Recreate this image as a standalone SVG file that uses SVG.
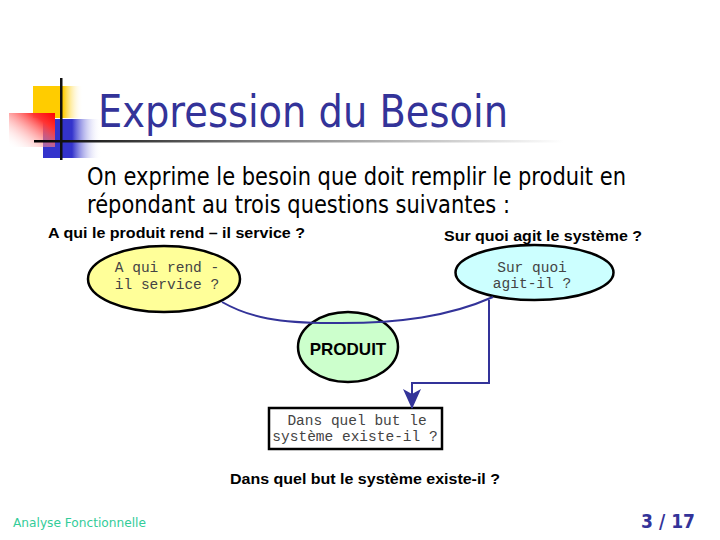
<svg xmlns="http://www.w3.org/2000/svg" width="720" height="540" viewBox="0 0 720 540">
<style>
.title{font-family:"DejaVu Sans","Liberation Sans",sans-serif;fill:#333399}
.body{font-family:"DejaVu Sans","Liberation Sans",sans-serif;fill:#000}
.lbl{font-family:"Liberation Sans",Arial,sans-serif;font-weight:bold;font-size:15.5px;fill:#000}
.mono{font-family:"Liberation Mono","Courier New",monospace;font-size:14.5px;fill:#444}
.node{stroke:#000;stroke-width:2.5}
.conn{fill:none;stroke:#333399;stroke-width:2}
</style>
<defs>
<linearGradient id="gy" x1="0" y1="0" x2="1" y2="0"><stop offset="0" stop-color="#ffcc00"/><stop offset="0.6" stop-color="#ffcc00"/><stop offset="1" stop-color="#fff" stop-opacity="0"/></linearGradient>
<linearGradient id="gr" x1="1" y1="0" x2="0" y2="1"><stop offset="0" stop-color="#ff0000"/><stop offset="0.25" stop-color="#ff3333"/><stop offset="1" stop-color="#fff" stop-opacity="0"/></linearGradient>
<linearGradient id="gb" x1="0" y1="0" x2="1" y2="0"><stop offset="0" stop-color="#3333cc"/><stop offset="0.5" stop-color="#3333cc"/><stop offset="1" stop-color="#fff" stop-opacity="0"/></linearGradient>
<linearGradient id="gl" x1="0" y1="0" x2="1" y2="0"><stop offset="0" stop-color="#000"/><stop offset="0.4" stop-color="#777"/><stop offset="1" stop-color="#fff"/></linearGradient>
<marker id="arr" viewBox="0 0 20 20" refX="19" refY="10" markerWidth="20" markerHeight="20" markerUnits="userSpaceOnUse" orient="auto">
<path d="M0,1 L20,10 L0,19 L5,10 Z" fill="#333399"/>
</marker>
</defs>

<g id="decoration">
<rect x="43" y="119" width="58" height="39" fill="url(#gb)"/>
<rect x="33" y="86" width="50" height="32" fill="url(#gy)"/>
<rect x="9" y="113" width="46" height="34" fill="url(#gr)"/>
<rect x="34" y="140" width="530" height="2.5" fill="url(#gl)"/>
<rect x="60" y="78" width="2.5" height="82" fill="#111"/>
</g>

<text class="title" x="98" y="127" font-size="45" textLength="410" lengthAdjust="spacingAndGlyphs">Expression du Besoin</text>
<text class="body" x="87" y="185" font-size="24" textLength="539" lengthAdjust="spacingAndGlyphs">On exprime le besoin que doit remplir le produit en</text>
<text class="body" x="87" y="213" font-size="24" textLength="423" lengthAdjust="spacingAndGlyphs">répondant au trois questions suivantes :</text>

<text class="lbl" x="48" y="238" textLength="257" lengthAdjust="spacingAndGlyphs">A qui le produit rend – il service ?</text>
<text class="lbl" x="444" y="241" textLength="198" lengthAdjust="spacingAndGlyphs">Sur quoi agit le système ?</text>

<g id="node-qui">
<ellipse class="node" cx="164" cy="279" rx="76" ry="33" fill="#ffff99"/>
<text class="mono" x="167" y="272" text-anchor="middle">A qui rend -</text>
<text class="mono" x="167" y="289" text-anchor="middle">il service ?</text>
</g>

<g id="node-quoi">
<ellipse class="node" cx="534.5" cy="272.5" rx="79" ry="27.5" fill="#ccffff"/>
<text class="mono" x="532" y="272" text-anchor="middle">Sur quoi</text>
<text class="mono" x="532" y="288" text-anchor="middle">agit-il ?</text>
</g>

<g id="node-produit">
<ellipse class="node" cx="348" cy="347" rx="50" ry="35" fill="#ccffcc"/>
<text x="348" y="355" text-anchor="middle" font-family="Liberation Sans,Arial,sans-serif" font-weight="bold" font-size="17">PRODUIT</text>
</g>

<g id="node-but">
<rect x="269" y="408" width="173" height="41" fill="#fff" stroke="#000" stroke-width="2.5"/>
<text class="mono" x="357" y="425" text-anchor="middle">Dans quel but le</text>
<text class="mono" x="355" y="441" text-anchor="middle">système existe-il ?</text>
</g>

<g id="connectors">
<path class="conn" d="M222,302 C250,318 280,323 330,323 C400,324 450,316 493,297"/>
<path class="conn" d="M489,300 V383 H412 V408" marker-end="url(#arr)"/>
</g>

<text class="lbl" x="365" y="484" text-anchor="middle" textLength="270" lengthAdjust="spacingAndGlyphs">Dans quel but le système existe-il ?</text>

<text x="13" y="527" font-family="DejaVu Sans,sans-serif" font-size="13" fill="#33cc99" textLength="133" lengthAdjust="spacingAndGlyphs">Analyse Fonctionnelle</text>
<text x="695" y="528" text-anchor="end" font-family="DejaVu Sans,sans-serif" font-weight="bold" font-size="19" fill="#333399" textLength="54" lengthAdjust="spacingAndGlyphs">3 / 17</text>
</svg>
